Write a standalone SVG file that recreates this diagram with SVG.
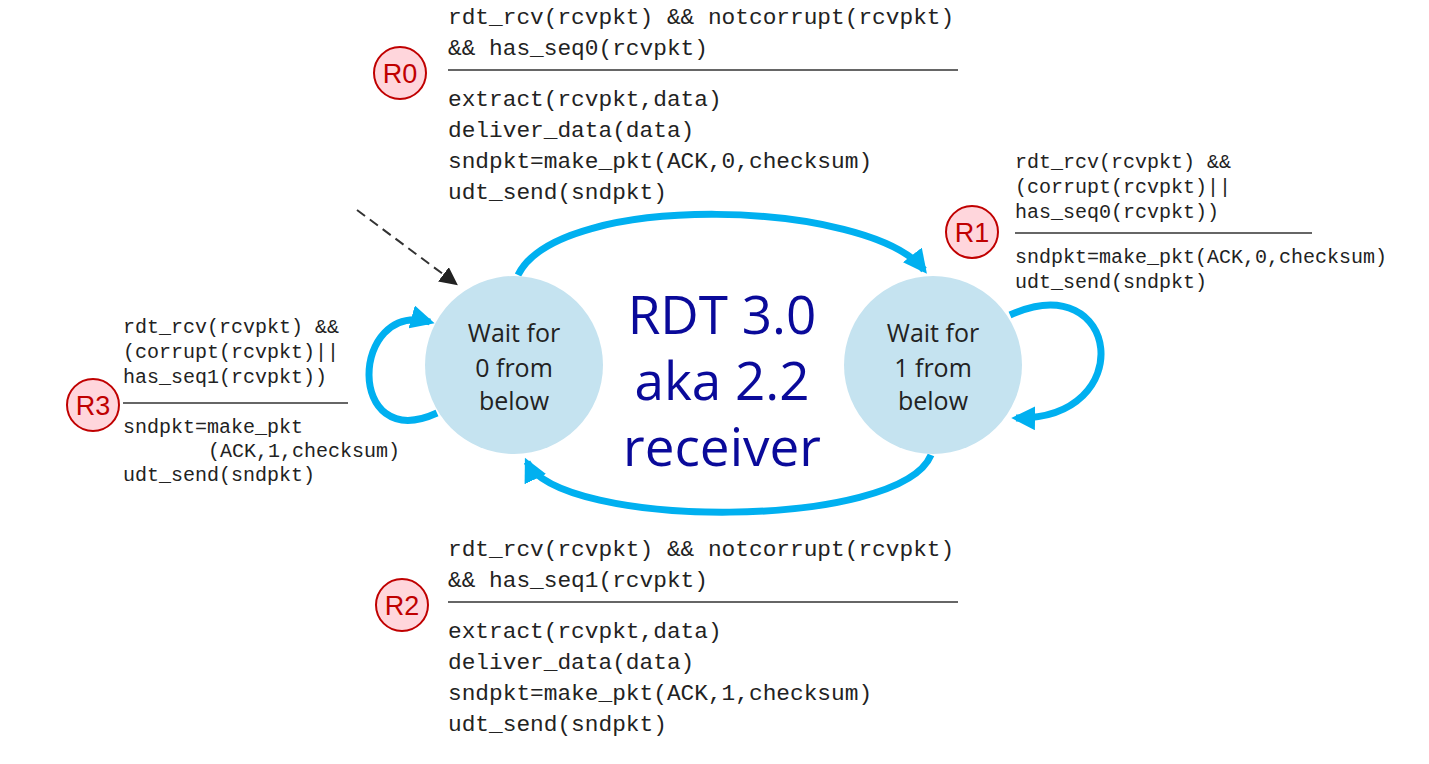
<svg xmlns="http://www.w3.org/2000/svg" width="1429" height="764" viewBox="0 0 1429 764">
<style>
.st{fill:#c5e3f0}
.sl{font-family:"Open Sans","Noto Sans",sans-serif;font-size:25px;fill:#222;text-anchor:middle}
.m{font-family:"Liberation Mono",monospace;fill:#222}
.big{font-size:22.8px}
.sm{font-size:20px}
.ln{stroke:#333;stroke-width:1.5}
.e{fill:none;stroke:#00b0f0;stroke-width:7}
.bd circle{fill:#ffd6dc;stroke:#c00000;stroke-width:2}
.bd text{font-family:"Liberation Sans",sans-serif;font-size:27px;fill:#c00000;text-anchor:middle}
</style>
<defs>
<marker id="a" viewBox="0 0 10 10" refX="8" refY="5" markerWidth="3.4" markerHeight="3.4" orient="auto" markerUnits="strokeWidth"><path d="M0,0L10,5L0,10z" fill="#00b0f0"/></marker>
<marker id="k" viewBox="0 0 10 10" refX="8" refY="5" markerWidth="9" markerHeight="9" orient="auto" markerUnits="strokeWidth"><path d="M0,0L10,5L0,10z" fill="#222"/></marker>
</defs>
<rect width="1429" height="764" fill="#fff"/>
<g id="connectors">
<path class="e" d="M518,275 C560,190 870,200 924,270" marker-end="url(#a)"/>
<path class="e" d="M931,455 C900,530 560,530 527,462" marker-end="url(#a)"/>
<path class="e" d="M1010,315 C1120,265 1140,420 1016,418" marker-end="url(#a)"/>
<path class="e" d="M437,413 C345,455 350,300 430,322" marker-end="url(#a)"/>
<path d="M357,210 L455,283" stroke="#333" stroke-width="2" stroke-dasharray="10,6" fill="none" marker-end="url(#k)"/>
</g>
<g id="s0"><circle class="st" cx="514" cy="365" r="89"/>
<text class="sl" x="514" y="342">Wait for</text><text class="sl" x="514" y="377">0 from</text><text class="sl" x="514" y="410">below</text></g>
<g id="s1"><circle class="st" cx="933" cy="365" r="89"/>
<text class="sl" x="933" y="342">Wait for</text><text class="sl" x="933" y="377">1 from</text><text class="sl" x="933" y="410">below</text></g>
<g id="title" font-family="Open Sans,Noto Sans,sans-serif" font-size="53" fill="#0a0a9a" text-anchor="middle">
<text x="722" y="334">RDT 3.0</text><text x="722" y="400">aka 2.2</text><text x="722" y="466">receiver</text></g>
<g id="l0" class="m big">
<text x="448" y="24">rdt_rcv(rcvpkt) &amp;&amp; notcorrupt(rcvpkt)</text>
<text x="448" y="55">&amp;&amp; has_seq0(rcvpkt)</text>
<line class="ln" x1="448" y1="70" x2="958" y2="70"/>
<text x="448" y="106">extract(rcvpkt,data)</text>
<text x="448" y="137">deliver_data(data)</text>
<text x="448" y="168">sndpkt=make_pkt(ACK,0,checksum)</text>
<text x="448" y="199">udt_send(sndpkt)</text></g>
<g id="l2" class="m big">
<text x="448" y="556">rdt_rcv(rcvpkt) &amp;&amp; notcorrupt(rcvpkt)</text>
<text x="448" y="587">&amp;&amp; has_seq1(rcvpkt)</text>
<line class="ln" x1="448" y1="602" x2="958" y2="602"/>
<text x="448" y="638">extract(rcvpkt,data)</text>
<text x="448" y="669">deliver_data(data)</text>
<text x="448" y="700">sndpkt=make_pkt(ACK,1,checksum)</text>
<text x="448" y="731">udt_send(sndpkt)</text></g>
<g id="l1" class="m sm">
<text x="1015" y="168">rdt_rcv(rcvpkt) &amp;&amp;</text>
<text x="1015" y="193">(corrupt(rcvpkt)||</text>
<text x="1015" y="218">has_seq0(rcvpkt))</text>
<line class="ln" x1="1015" y1="233" x2="1312" y2="233"/>
<text x="1015" y="263">sndpkt=make_pkt(ACK,0,checksum)</text>
<text x="1015" y="288">udt_send(sndpkt)</text></g>
<g id="l3" class="m sm">
<text x="123" y="333">rdt_rcv(rcvpkt) &amp;&amp;</text>
<text x="123" y="358">(corrupt(rcvpkt)||</text>
<text x="123" y="383">has_seq1(rcvpkt))</text>
<line class="ln" x1="123" y1="403" x2="348" y2="403"/>
<text x="123" y="433">sndpkt=make_pkt</text>
<text x="208" y="457">(ACK,1,checksum)</text>
<text x="123" y="481">udt_send(sndpkt)</text></g>
<g id="R0" class="bd"><circle cx="400" cy="73" r="26"/><text x="400" y="83">R0</text></g>
<g id="R1" class="bd"><circle cx="972" cy="232" r="26"/><text x="972" y="242">R1</text></g>
<g id="R2" class="bd"><circle cx="402" cy="605" r="26"/><text x="402" y="615">R2</text></g>
<g id="R3" class="bd"><circle cx="93" cy="405" r="26"/><text x="93" y="415">R3</text></g>
</svg>
